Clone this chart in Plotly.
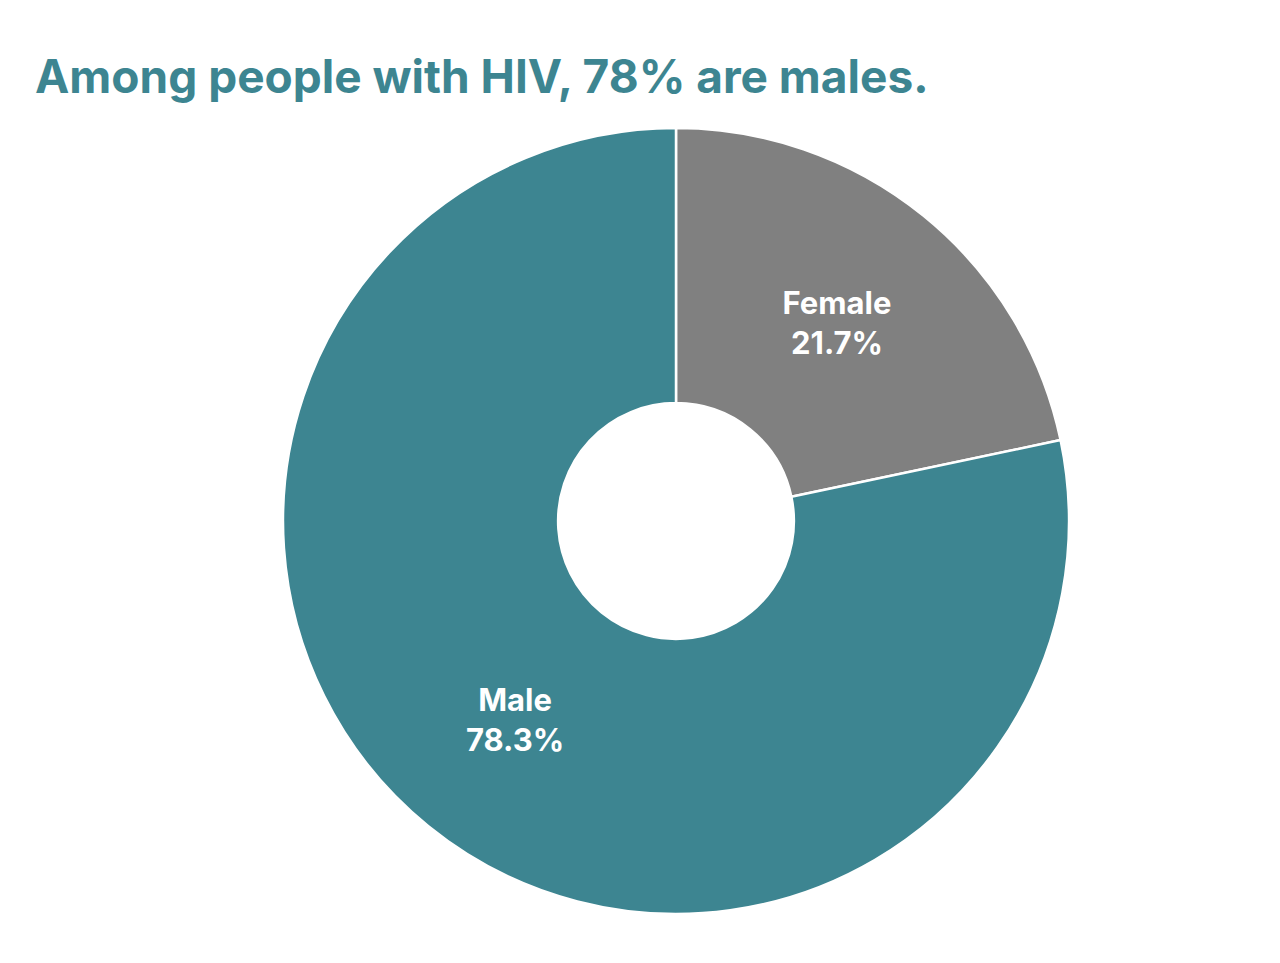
import plotly.graph_objects as go

labels = ["Female", "Male"]
values = [21.7, 78.3]
colors = ["#808080", "#3d8591"]

W, H = 1264, 947  # page has an 8px body margin

fig = go.Figure()

fig.add_trace(go.Pie(
    labels=labels,
    values=values,
    hole=0.3,
    sort=False,
    direction="clockwise",
    rotation=0,
    marker=dict(colors=colors, line=dict(color="white", width=2.5)),
    texttemplate="<b>%{label}<br>%{percent:.1%}</b>",
    textposition="inside",
    insidetextorientation="horizontal",
    textfont=dict(family="Inter", size=31, color="white"),
    hoverinfo="label+percent",
    domain=dict(x=[275 / W, 1061 / W], y=[41 / H, 827 / H]),
    showlegend=False,
))

fig.update_layout(
    width=W,
    height=H,
    margin=dict(l=0, r=0, t=0, b=0),
    paper_bgcolor="white",
    title=dict(
        text="<b>Among people with HIV, 78% are males.</b>",
        x=27 / W,
        xanchor="left",
        y=1 - 69 / H,
        yanchor="middle",
        font=dict(family="Inter", size=46, color="#3d8591"),
    ),
)

fig.write_html("out.html")
